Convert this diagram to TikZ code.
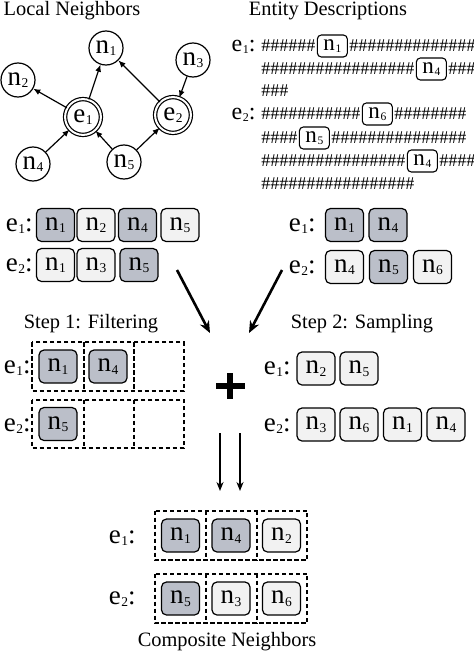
\documentclass[tikz,border=0pt]{standalone}
\usepackage{fontspec}
\setmainfont{Liberation Serif}
\usetikzlibrary{arrows.meta,positioning}
\definecolor{boxdark}{RGB}{187,191,201}
\definecolor{boxlight}{RGB}{242,242,242}
\newcommand{\lowsub}[1]{\kern0.3pt\raisebox{-0.2ex}{\scalebox{0.5}{#1}}}
\newcommand{\nlab}[1]{n\lowsub{#1}}
\newcommand{\elab}[1]{e\lowsub{#1}}
\newcommand{\hashes}[1]{\foreach\h in {1,...,#1}{\#}}
\tikzset{
  title/.style={font=\fontsize{10.2}{12}\selectfont},
  nd/.style={draw,circle,minimum size=17pt,inner sep=0pt,line width=0.6pt,font=\fontsize{13.5}{14}\selectfont},
  ent/.style={nd,double,double distance=1pt,minimum size=17.9pt},
  garrow/.style={-{Latex[length=3.5pt,width=3pt]},line width=0.6pt},
  hash/.style={inner sep=0pt,font=\fontsize{9}{10}\selectfont},
  tag/.style={draw,rounded corners=2pt,minimum width=15pt,minimum height=11pt,inner sep=0pt,line width=0.55pt,font=\fontsize{11.5}{12}\selectfont},
  box/.style={draw,rounded corners=2.5pt,minimum width=19pt,minimum height=16.5pt,inner sep=0pt,line width=0.6pt,font=\fontsize{13.5}{14}\selectfont},
  dark/.style={box,fill=boxdark},
  light/.style={box,fill=boxlight},
  rlab/.style={anchor=east,inner sep=0pt,font=\fontsize{13.5}{14}\selectfont},
  cell/.style={minimum width=25.2pt,minimum height=24pt,inner sep=0pt},
  dashframe/.style={line width=1pt,dash pattern=on 2.2pt off 1.3pt},
  bigarrow/.style={-{Stealth[length=6pt,width=5pt]},line width=1.3pt},
  downarrow/.style={-{Stealth[length=4.5pt,width=3.5pt]},line width=1pt}
}
\begin{document}
\begin{tikzpicture}[x=0.5pt,y=-0.5pt]
\useasboundingbox (0,0) rectangle (474,653);

% titles
\node[title] at (72,11) {Local Neighbors};
\node[title] at (328,11) {Entity Descriptions};
\node[title] at (91,324) {Step 1: Filtering};
\node[title] at (362,324) {Step 2: Sampling};
\node[title] at (227,642) {Composite Neighbors};

% local neighbor graph
\node[nd] (n1) at (106,48) {\nlab1};
\node[nd] (n2) at (18,80) {\nlab2};
\node[nd] (n3) at (193,60) {\nlab3};
\node[ent] (e1) at (83,117) {\elab1};
\node[ent] (e2) at (173,115) {\elab2};
\node[nd] (n4) at (33,164) {\nlab4};
\node[nd] (n5) at (124,162) {\nlab5};
\draw[garrow] (e1) -- (n1);
\draw[garrow] (e1) -- (n2);
\draw[garrow] (e2) -- (n1);
\draw[garrow] (n3) -- (e2);
\draw[garrow] (n4) -- (e1);
\draw[garrow] (n5) -- (e1);
\draw[garrow] (n5) -- (e2);

% entity descriptions
\node[rlab,font=\fontsize{12}{13}\selectfont] at (256,47) {\elab1:};
\node[hash,anchor=west] (d11) at (261,46) {\hashes{6}};
\node[tag,right=0.5pt of d11] (t11) {\nlab1};
\node[hash,right=0.5pt of t11] {\hashes{14}};
\node[hash,anchor=west] (d12) at (261,69) {\hashes{17}};
\node[tag,right=0.5pt of d12] (t12) {\nlab4};
\node[hash,right=0.5pt of t12] {\hashes{3}};
\node[hash,anchor=west] at (261,91) {\hashes{3}};

\node[rlab,font=\fontsize{12}{13}\selectfont] at (256,115) {\elab2:};
\node[hash,anchor=west] (d21) at (261,114) {\hashes{11}};
\node[tag,right=0.5pt of d21] (t21) {\nlab6};
\node[hash,right=0.5pt of t21] {\hashes{8}};
\node[hash,anchor=west] (d22) at (261,138) {\hashes{4}};
\node[tag,right=0.5pt of d22] (t22) {\nlab5};
\node[hash,right=0.5pt of t22] {\hashes{15}};
\node[hash,anchor=west] (d23) at (261,161) {\hashes{16}};
\node[tag,right=0.5pt of d23] (t23) {\nlab4};
\node[hash,right=0.5pt of t23] {\hashes{4}};
\node[hash,anchor=west] at (261,184) {\hashes{17}};

% neighbor lists
\node[rlab] at (33,226) {\elab1:};
\node[rlab] at (33,266) {\elab2:};
\foreach \x/\n/\s [count=\k] in {55.5/1/dark,96/2/light,137.5/4/dark,180/5/light}
  \node[\s] (a1\k) at (\x,225) {\nlab\n};
\foreach \x/\n/\s [count=\k] in {55.5/1/light,96/3/light,139/5/dark}
  \node[\s] (a2\k) at (\x,265) {\nlab\n};

\node[rlab] at (316,226) {\elab1:};
\node[rlab] at (316,268) {\elab2:};
\foreach \x/\n/\s [count=\k] in {344.5/1/dark,388/4/dark}
  \node[\s] (b1\k) at (\x,225) {\nlab\n};
\foreach \x/\n/\s [count=\k] in {344.5/4/light,388.5/5/dark,432.5/6/light}
  \node[\s] (b2\k) at (\x,267) {\nlab\n};

% merge arrows
\coordinate (fromL) at (177,270);
\coordinate (fromR) at (282,270);
\coordinate (toL) at (210,333);
\coordinate (toR) at (249,333);
\draw[bigarrow] (fromL) -- (toL);
\draw[bigarrow] (fromR) -- (toR);

% step 1: filtering
\node[rlab] at (31,368) {\elab1:};
\node[rlab] at (31,426) {\elab2:};
\foreach \x [count=\k] in {58,108,158} {
  \node[cell] (f1\k) at (\x,366.5) {};
  \node[cell] (f2\k) at (\x,424) {};
}
\node[dark] at (f11) {\nlab1};
\node[dark] at (f12) {\nlab4};
\node[dark] at (f21) {\nlab5};
\foreach \r in {1,2} {
  \draw[dashframe] (f\r1.north west) rectangle (f\r3.south east);
  \draw[dashframe] (f\r1.north east) -- (f\r1.south east);
  \draw[dashframe] (f\r2.north east) -- (f\r2.south east);
}

% plus
\coordinate (plus) at (230,386);
\draw[line width=2.6pt] (plus) ++(-14,0) -- ++(29,0);
\draw[line width=2.6pt] (plus) ++(0,-13) -- ++(0,26);

% step 2: sampling
\node[rlab] at (291,369) {\elab1:};
\node[rlab] at (291,426) {\elab2:};
\foreach \x/\n [count=\k] in {316/2,359/5}
  \node[light] (s1\k) at (\x,368.5) {\nlab\n};
\foreach \x/\n [count=\k] in {316/3,359/6,402.5/1,446/4}
  \node[light] (s2\k) at (\x,424.5) {\nlab\n};

% down arrows
\coordinate (dnL) at (220,433);
\coordinate (dnR) at (240,433);
\coordinate (upC1) at (220,491);
\coordinate (upC2) at (240,491);
\draw[downarrow] (dnL) -- (upC1);
\draw[downarrow] (dnR) -- (upC2);

% composite neighbors
\node[rlab] at (136,538) {\elab1:};
\node[rlab] at (136,599) {\elab2:};
\foreach \x [count=\k] in {180.5,231,281.5} {
  \node[cell,minimum height=24.5pt] (c1\k) at (\x,535.5) {};
  \node[cell,minimum height=24.5pt] (c2\k) at (\x,598.5) {};
}
\node[dark] at (c11) {\nlab1};
\node[dark] at (c12) {\nlab4};
\node[light] at (c13) {\nlab2};
\node[dark] at (c21) {\nlab5};
\node[light] at (c22) {\nlab3};
\node[light] at (c23) {\nlab6};
\foreach \r in {1,2} {
  \draw[dashframe] (c\r1.north west) rectangle (c\r3.south east);
  \draw[dashframe] (c\r1.north east) -- (c\r1.south east);
  \draw[dashframe] (c\r2.north east) -- (c\r2.south east);
}
\end{tikzpicture}
\end{document}
